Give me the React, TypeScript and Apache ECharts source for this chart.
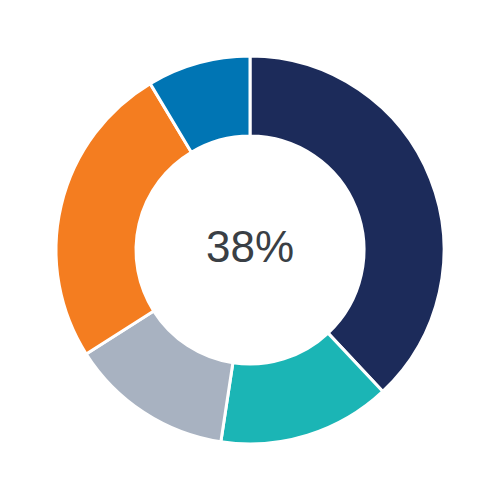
import { useEffect, useRef } from "react";
import * as echarts from "echarts";

const segmentNames = ["Navy", "Teal", "Gray", "Orange", "Blue"];
const segmentValues = [38, 14.4, 13.6, 25.4, 8.6];
const segmentColors = ["#1c2b5a", "#1bb5b5", "#a8b2c1", "#f47d20", "#0075b4"];
const centerLabel = "38%";

function App() {
  const containerRef = useRef<HTMLDivElement>(null);

  useEffect(() => {
    if (!containerRef.current) return;
    const chart = echarts.init(containerRef.current, null, { renderer: "svg" });

    chart.setOption({
      animation: false,
      backgroundColor: "#ffffff",
      graphic: [
        {
          type: "text",
          left: "center",
          top: 224,
          style: {
            text: centerLabel,
            fontSize: 44,
            fontFamily: "Liberation Sans, Arial, sans-serif",
            fill: "#3a3f45",
          },
        },
      ],
      series: [
        {
          type: "pie",
          center: ["50%", "50%"],
          radius: [114, 194],
          startAngle: 90,
          clockwise: true,
          label: { show: false },
          labelLine: { show: false },
          emphasis: { disabled: true },
          itemStyle: { borderColor: "#ffffff", borderWidth: 3 },
          data: segmentValues.map((v, i) => ({
            name: segmentNames[i],
            value: v,
            itemStyle: { color: segmentColors[i] },
          })),
        },
      ],
    });

    return () => {
      chart.dispose();
    };
  }, []);

  return (
    <div
      ref={containerRef}
      style={{ position: "fixed", left: 0, top: 0, width: 500, height: 500 }}
    ></div>
  );
}

export default App;
